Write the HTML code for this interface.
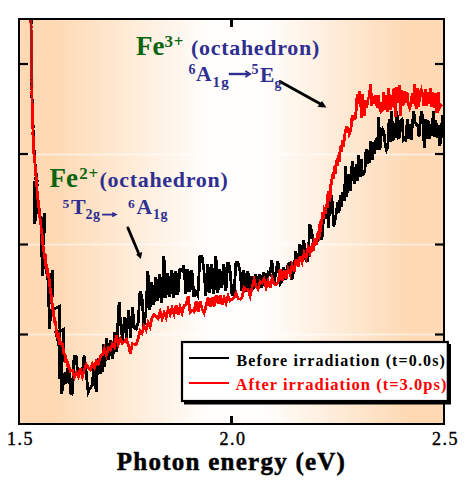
<!DOCTYPE html>
<html><head><meta charset="utf-8">
<style>
html,body{margin:0;padding:0;background:#fff;}
body{width:474px;height:483px;overflow:hidden;position:relative;}
svg{position:absolute;left:0;top:0;}
text{font-family:"Liberation Serif",serif;font-weight:bold;}
</style></head><body>
<svg width="474" height="483" viewBox="0 0 474 483">
<defs>
<linearGradient id="bg" x1="20" y1="0" x2="443" y2="0" gradientUnits="userSpaceOnUse">
<stop offset="0" stop-color="#fed9b3"/>
<stop offset="0.08" stop-color="#fed9b3"/>
<stop offset="0.45" stop-color="#fffefd"/>
<stop offset="0.575" stop-color="#fffefd"/>
<stop offset="0.92" stop-color="#fed9b4"/>
<stop offset="1" stop-color="#fed9b4"/>
</linearGradient>
</defs>
<rect x="0" y="0" width="474" height="483" fill="#fff"/>
<rect x="19" y="19" width="425" height="405" fill="url(#bg)"/>
<!-- faint gridlines -->
<g stroke="#fff" stroke-opacity="0.5" stroke-width="2">
<line x1="28" y1="154.5" x2="435" y2="154.5"/>
<line x1="28" y1="244.5" x2="435" y2="244.5"/>
<line x1="28" y1="334.5" x2="435" y2="334.5"/>
</g>
<!-- data -->
<polyline fill="none" stroke="#000" stroke-width="2.8" stroke-linejoin="miter" shape-rendering="crispEdges" points="31.0,19.0 31.3,21.0 31.3,23.0 31.0,25.0 31.0,27.0 31.0,29.0 31.3,31.0 31.2,33.0 31.3,35.0 30.9,37.0 31.6,39.0 31.3,41.0 31.4,43.0 31.3,45.0 31.3,47.0 31.5,49.0 31.6,51.0 31.4,53.0 31.4,55.0 31.6,57.0 31.3,59.0 31.2,61.0 31.6,63.0 31.4,65.0 31.2,67.0 31.5,69.0 31.5,71.0 31.4,73.0 31.4,75.0 31.7,77.0 31.9,79.0 31.7,81.0 31.6,83.0 31.9,85.0 32.0,87.0 31.8,89.0 32.0,91.0 32.1,93.0 31.9,95.0 31.8,97.0 32.1,99.0 32.1,101.0 32.3,103.0 31.9,105.0 32.1,107.0 32.2,109.0 32.1,111.0 32.5,113.0 32.7,115.0 32.5,117.0 33.0,119.0 33.0,121.0 33.0,123.0 33.1,125.0 33.3,127.0 32.9,129.0 33.4,131.0 33.4,133.0 33.0,135.0 33.5,137.0 33.5,139.0 33.8,141.0 33.6,143.0 33.8,145.0 33.9,147.0 33.8,149.0 34.2,151.0 34.2,153.0 34.5,155.0 34.5,157.0 34.9,159.0 35.0,161.0 35.0,163.0 35.3,165.0 35.6,167.0 35.9,169.0 35.4,171.0 36.0,173.0 36.4,175.0 36.1,177.0 35.5,179.0 37.5,181.0 35.6,183.0 37.3,185.0 35.8,189.0 37.0,191.0 36.4,193.0 37.8,195.0 36.7,201.0 37.8,203.0 34.1,181.2 34.7,223.7 38.0,200.0 43.9,244.7 44.5,213.3 41.3,232.7 42.4,276.4 43.0,249.9 45.1,263.7 52.0,304.2 52.6,270.4 48.4,285.9 48.6,284.4 49.2,329.0 51.4,310.2 59.6,306.2 60.2,350.6 55.7,332.2 63.3,329.4 63.9,361.7 59.2,347.9 59.1,339.3 59.7,378.8 62.0,359.5 61.1,351.3 61.7,393.7 65.1,372.4 66.1,383.5 67.6,368.1 69.1,373.0 70.6,392.9 72.1,394.1 74.1,356.2 76.1,356.1 78.1,377.1 80.1,371.6 82.1,375.2 84.1,355.6 86.1,370.8 88.1,392.3 90.1,388.1 92.1,385.8 94.1,363.3 96.1,392.0 98.1,358.4 100.1,374.3 101.3,354.3 102.4,372.0 103.6,344.1 104.7,366.9 106.7,338.2 108.7,359.8 110.7,339.8 112.7,359.2 114.7,331.7 116.4,352.1 117.8,325.6 119.1,302.3 120.5,322.3 122.5,340.7 124.5,317.0 126.5,338.0 128.5,309.7 130.5,337.5 132.5,307.4 134.4,328.0 136.3,329.2 138.2,322.2 140.0,291.4 141.9,295.5 143.9,326.5 145.9,312.3 147.9,271.1 149.9,309.9 151.9,282.2 153.9,304.9 155.9,276.7 157.9,300.6 159.9,274.0 161.9,302.8 163.9,256.0 165.9,298.1 167.9,273.6 169.9,297.1 171.9,270.4 173.9,297.7 175.9,270.7 177.9,294.6 179.9,269.7 181.9,270.7 183.9,265.5 185.9,294.2 187.9,268.8 189.9,292.1 191.9,270.3 193.9,296.8 195.9,291.6 197.9,295.5 199.9,256.0 201.9,256.0 203.9,269.8 205.9,295.6 207.9,263.9 209.9,292.6 211.9,264.4 213.9,293.6 215.9,256.0 217.9,292.8 219.9,268.7 221.9,288.0 223.9,264.3 225.9,291.3 227.9,262.0 229.9,268.0 231.9,294.1 233.9,295.6 235.9,262.8 237.9,262.4 239.9,270.3 241.9,290.4 243.9,270.2 245.9,292.3 247.9,271.3 249.9,290.5 251.9,276.6 253.9,289.3 255.9,274.6 257.9,287.9 259.9,274.0 261.9,288.1 263.9,272.0 265.9,286.3 267.9,272.7 269.9,274.5 271.9,259.9 273.9,284.1 275.9,272.3 277.9,260.8 279.9,284.3 281.9,281.4 283.9,267.4 285.9,279.4 287.9,265.0 289.9,263.1 291.9,279.9 293.9,270.0 295.9,251.5 297.9,263.8 299.9,244.3 301.9,257.0 303.9,240.5 305.9,260.2 307.9,260.7 309.9,224.2 311.9,233.1 313.9,245.1 315.9,244.0 317.9,240.3 319.9,227.6 321.9,240.0 323.9,213.5 325.9,218.9 327.2,202.3 328.4,228.4 329.7,204.6 331.7,195.0 333.7,226.4 335.7,216.8 337.7,201.8 339.0,212.9 340.3,195.0 341.6,207.2 342.9,192.3 344.3,201.0 345.6,166.0 346.9,196.5 348.2,173.9 350.2,190.5 352.2,161.5 354.2,183.7 356.2,164.3 357.5,181.0 358.8,154.7 360.1,177.1 361.3,159.1 362.5,175.8 363.7,173.2 364.9,170.8 366.1,149.2 367.3,164.3 368.5,150.5 369.7,162.6 370.9,141.5 372.2,159.7 373.5,142.1 374.8,153.7 376.1,138.1 377.4,150.0 378.7,117.1 380.0,149.8 381.3,133.6 382.6,129.2 383.9,132.0 385.2,144.2 386.5,150.0 387.8,146.6 389.1,119.4 390.4,142.0 391.7,111.0 393.0,141.0 394.3,122.8 395.6,138.2 396.9,111.0 398.2,137.9 399.5,136.9 400.8,120.5 402.1,119.1 403.4,140.4 404.7,139.4 406.0,140.2 407.3,119.1 408.6,138.5 409.9,124.1 411.2,139.9 412.5,122.6 413.8,111.2 415.1,122.0 416.4,124.8 417.7,124.9 419.0,137.1 420.3,121.4 421.6,111.0 422.9,119.3 424.2,147.7 425.5,119.4 426.8,138.9 428.1,120.6 429.4,138.6 430.7,124.5 432.0,136.1 433.3,111.0 434.6,136.8 435.9,120.3 437.2,138.0 438.5,125.0 439.8,145.9 441.1,137.9 442.4,114.6"/>
<polyline fill="none" stroke="#f00" stroke-width="2.8" stroke-linejoin="miter" shape-rendering="crispEdges" points="30.8,19.0 30.8,21.0 30.9,23.0 31.0,25.0 31.3,27.0 30.9,29.0 31.3,31.0 31.4,33.0 31.1,35.0 31.1,37.0 31.3,39.0 31.5,41.0 31.6,43.0 31.5,45.0 31.6,47.0 31.3,49.0 31.3,51.0 31.2,53.0 31.3,55.0 31.4,57.0 31.5,59.0 31.3,61.0 31.7,63.0 31.6,65.0 31.5,67.0 31.5,69.0 31.9,71.0 31.7,73.0 31.6,75.0 31.6,77.0 32.0,79.0 31.7,81.0 32.0,83.0 32.0,85.0 31.5,87.0 32.1,89.0 31.9,91.0 31.8,93.0 31.9,95.0 32.0,97.0 32.0,99.0 32.1,101.0 32.0,103.0 32.4,105.0 32.4,107.0 32.6,109.0 32.5,111.0 32.7,113.0 32.8,115.0 32.6,117.0 32.7,119.0 32.8,121.0 32.8,123.0 32.9,125.0 32.6,127.0 32.9,129.0 33.1,131.0 32.7,133.0 32.9,135.0 33.4,137.0 33.1,139.0 33.2,141.0 33.4,143.0 33.4,145.0 33.4,147.0 33.5,149.0 33.6,151.0 33.8,153.0 34.1,155.0 34.5,157.0 34.4,159.0 34.8,161.0 34.9,163.0 35.0,165.0 35.2,167.0 35.2,169.0 35.5,171.0 35.7,173.0 35.6,175.0 36.1,177.0 36.2,179.0 36.4,181.0 36.4,183.0 36.3,185.0 37.1,187.0 37.0,189.0 36.9,191.0 37.5,193.0 37.5,195.0 37.8,197.0 37.9,199.0 38.3,201.0 38.4,203.0 38.6,205.0 38.8,207.0 39.2,209.0 39.0,211.0 39.6,213.0 39.8,215.0 39.8,217.0 40.1,219.0 40.2,221.0 40.5,223.0 40.9,225.0 40.9,227.0 41.3,229.0 41.6,231.0 41.7,233.0 42.1,235.0 42.1,237.0 42.4,239.0 42.9,241.0 42.7,243.0 42.9,245.0 43.2,247.0 43.5,249.0 43.5,248.7 44.0,252.0 44.6,259.3 45.1,253.8 45.7,265.5 46.2,264.0 46.8,269.8 47.3,268.3 47.9,276.0 48.4,273.6 49.0,278.9 49.5,279.9 50.0,288.6 50.5,288.8 51.0,295.5 51.5,295.8 52.0,304.0 52.5,302.9 53.0,311.0 53.5,309.1 54.0,319.0 54.5,317.0 55.0,323.6 55.6,321.4 56.1,328.9 56.9,335.2 57.9,337.3 58.9,335.5 59.9,344.6 60.9,342.0 62.0,343.1 63.0,347.4 64.0,354.0 65.0,354.0 65.9,362.5 66.9,359.7 67.8,365.9 68.7,365.5 70.4,371.4 72.4,370.5 74.4,377.3 76.4,372.5 78.4,376.5 80.4,368.6 82.4,376.4 84.4,369.1 86.4,364.7 88.4,367.6 90.4,370.0 92.4,364.2 94.4,367.8 96.4,361.1 98.4,363.7 100.4,356.3 102.4,354.8 104.4,348.8 106.4,355.2 108.4,348.1 110.4,349.8 112.4,343.4 114.4,346.9 116.4,335.5 118.4,344.3 120.4,338.9 122.4,343.2 124.4,341.9 126.4,339.3 128.4,345.0 130.4,353.5 132.4,343.8 134.3,344.2 136.2,344.6 138.2,338.1 140.1,330.8 142.1,333.2 144.1,326.0 146.1,330.3 148.1,322.5 150.1,326.6 152.1,317.1 154.1,314.6 156.1,316.1 158.1,318.4 160.1,311.6 162.1,318.7 164.1,312.5 166.1,317.7 168.1,309.2 170.1,314.6 172.1,307.9 174.1,314.1 176.1,305.4 178.1,314.6 180.1,306.8 182.1,313.0 184.1,305.6 186.1,304.8 188.1,296.4 190.1,312.5 192.1,310.5 194.1,311.9 196.1,300.9 198.1,311.5 200.1,301.0 202.1,309.0 204.1,313.2 206.1,305.8 208.1,297.8 210.1,306.8 212.1,297.5 214.1,306.4 216.1,295.4 218.1,303.8 220.1,295.6 222.1,304.5 224.1,297.6 226.1,303.1 228.1,295.8 230.1,300.7 232.1,299.1 234.1,297.8 236.1,292.9 238.1,298.6 240.1,299.2 242.1,297.4 244.1,287.6 246.1,289.7 248.1,289.7 250.1,296.0 252.1,287.1 254.1,279.4 256.1,286.1 258.1,289.1 260.1,281.5 262.1,283.1 264.1,279.3 266.1,287.5 268.1,280.9 270.1,287.9 272.1,278.1 274.1,283.9 276.1,284.7 278.1,282.2 280.1,269.0 282.1,280.8 284.1,270.5 286.1,279.2 288.1,269.0 290.1,274.2 292.1,265.2 294.1,271.7 296.1,259.3 298.1,266.9 300.1,256.0 302.1,262.1 304.1,253.1 306.1,258.0 308.1,247.7 310.1,253.3 312.1,246.0 313.5,251.2 314.9,238.4 316.3,244.8 317.7,234.7 319.1,237.4 319.7,223.6 320.4,231.8 321.0,218.7 321.7,224.8 322.5,212.2 323.5,219.1 324.5,209.5 325.5,211.4 326.5,204.5 327.2,207.5 327.8,194.3 328.3,200.7 328.9,190.9 329.4,198.2 330.0,199.1 330.6,191.5 331.1,179.3 331.7,184.8 332.5,173.7 333.4,178.5 334.4,165.8 335.3,173.6 336.3,160.6 337.2,165.5 338.2,154.9 339.2,162.0 340.3,146.0 341.3,152.3 342.4,140.2 343.5,146.5 344.7,135.2 346.2,127.7 347.7,127.9 349.2,134.3 350.7,130.8 352.2,115.7 353.7,119.3 355.2,118.0 356.2,110.5 357.2,93.8 358.3,103.8 359.4,90.8 360.4,97.5 361.5,118.0 362.8,94.2 364.1,116.1 365.4,100.3 366.7,107.4 368.0,99.1 369.3,96.0 370.6,84.0 371.9,105.7 373.2,96.0 374.5,103.3 375.8,95.4 377.1,108.0 378.4,95.4 379.7,107.9 381.0,111.7 382.3,110.4 383.6,91.9 384.9,109.9 386.2,95.0 387.5,111.5 388.8,88.5 390.1,109.8 391.4,95.4 392.7,106.9 394.0,88.3 395.3,116.5 396.6,87.1 397.9,103.1 399.2,84.9 400.5,116.4 401.8,89.7 403.1,105.4 404.4,91.4 405.7,103.3 407.0,91.7 408.3,103.8 409.6,108.0 410.9,104.3 412.2,93.3 413.5,103.4 414.8,84.0 416.1,109.3 417.4,88.3 418.7,106.7 420.0,92.9 421.3,89.6 422.6,94.0 423.9,105.9 425.2,89.0 426.5,106.3 427.8,92.2 429.1,104.2 430.4,88.6 431.7,107.0 433.0,92.2 434.3,107.7 435.6,93.5 436.9,112.9 438.2,92.6 439.5,108.0 440.8,105.3 442.1,106.4"/>
<line x1="31" y1="19" x2="32" y2="88" stroke="#a81a1a" stroke-width="2.4"/>
<!-- frame -->
<rect x="19" y="19" width="425" height="405" fill="none" stroke="#000" stroke-width="2"/>
<g stroke="#000" stroke-width="2.2">
<line x1="19" y1="64" x2="28" y2="64"/>
<line x1="19" y1="154" x2="28" y2="154"/>
<line x1="19" y1="244.5" x2="28" y2="244.5"/>
<line x1="19" y1="334.5" x2="28" y2="334.5"/>
<line x1="435" y1="64" x2="444" y2="64"/>
<line x1="435" y1="154" x2="444" y2="154"/>
<line x1="435" y1="244.5" x2="444" y2="244.5"/>
<line x1="435" y1="334.5" x2="444" y2="334.5"/>
<line x1="231.5" y1="19" x2="231.5" y2="27" stroke-width="3"/>
<line x1="231.5" y1="416" x2="231.5" y2="424" stroke-width="3"/>
</g>
<!-- arrows -->
<g stroke="#000" stroke-width="2.8" fill="none" stroke-linecap="round">
<line x1="280" y1="81.5" x2="321" y2="104.3"/>
<line x1="127.9" y1="227.9" x2="138.5" y2="253"/>
</g>
<polygon points="322,101 317.5,107 326.5,107.5" fill="#000"/>
<polygon points="136,254.5 142.2,252 140.8,259" fill="#000"/>
<!-- Fe3+ label -->
<text x="136" y="54.5" font-size="27" fill="#0b650f">Fe</text>
<text x="164.5" y="46.5" font-size="17" fill="#0b650f" letter-spacing="0.8">3+</text>
<text x="191" y="54.8" font-size="22" fill="#2f2f92" letter-spacing="0.7">(octahedron)</text>
<text x="188.5" y="74" font-size="14" fill="#2f2f92">6</text>
<text x="196" y="81" font-size="21.5" fill="#2f2f92">A</text>
<text x="212.5" y="87.3" font-size="15" fill="#2f2f92" letter-spacing="1.2">1g</text>
<g stroke="#2f2f92" fill="none" stroke-width="2.4"><line x1="228.8" y1="74" x2="249" y2="74"/><polyline points="245.3,71 250,74 245.3,77" stroke-width="2"/></g>
<text x="251.5" y="74" font-size="14" fill="#2f2f92">5</text>
<text x="260" y="81.5" font-size="21.5" fill="#2f2f92">E</text>
<text x="274.5" y="87.5" font-size="14" fill="#2f2f92">g</text>
<!-- Fe2+ label -->
<text x="49.5" y="186.6" font-size="27" fill="#0b650f">Fe</text>
<text x="79.3" y="178.6" font-size="17" fill="#0b650f" letter-spacing="0.6">2+</text>
<text x="99.5" y="187" font-size="22" fill="#2f2f92" letter-spacing="0.7">(octahedron)</text>
<text x="62.5" y="208" font-size="13.5" fill="#2f2f92">5</text>
<text x="71" y="213.5" font-size="22" fill="#2f2f92">T</text>
<text x="85.5" y="219.3" font-size="14" fill="#2f2f92" letter-spacing="0.6">2g</text>
<g stroke="#2f2f92" fill="none" stroke-width="1.8"><line x1="102" y1="214.6" x2="115" y2="214.6"/><polyline points="112.2,212.8 115.7,214.6 112.2,216.4" stroke-width="1.8"/></g>
<text x="128" y="208" font-size="13.5" fill="#2f2f92">6</text>
<text x="136.5" y="213.5" font-size="21.5" fill="#2f2f92">A</text>
<text x="153" y="219.3" font-size="14" fill="#2f2f92" letter-spacing="0.6">1g</text>
<!-- legend -->
<rect x="184" y="344" width="267" height="60.5" fill="#000"/>
<rect x="182" y="342" width="265.8" height="59" fill="#fff" stroke="#000" stroke-width="2.2"/>
<line x1="189" y1="358" x2="229" y2="358" stroke="#000" stroke-width="2.2"/>
<line x1="189" y1="383" x2="229" y2="383" stroke="#f00" stroke-width="2.2"/>
<text x="236.5" y="365.5" font-size="16" fill="#000" letter-spacing="1.13">Before irradiation (t=0.0s)</text>
<text x="235.5" y="390" font-size="16.5" fill="#f00" letter-spacing="1.01">After irradiation (t=3.0ps)</text>
<!-- axis labels -->
<text x="20.5" y="444.5" font-size="18" font-weight="normal" style="font-weight:normal" fill="#000" text-anchor="middle" letter-spacing="1.5" stroke="#000" stroke-width="0.4">1.5</text>
<text x="233" y="444.5" font-size="18" style="font-weight:normal" fill="#000" text-anchor="middle" letter-spacing="1.5" stroke="#000" stroke-width="0.4">2.0</text>
<text x="445.5" y="444.5" font-size="18" style="font-weight:normal" fill="#000" text-anchor="middle" letter-spacing="1.5" stroke="#000" stroke-width="0.4">2.5</text>
<text x="231.5" y="469.5" font-size="25" fill="#000" stroke="#000" stroke-width="0.5" text-anchor="middle" letter-spacing="1.25">Photon energy (eV)</text>
</svg>
</body></html>
